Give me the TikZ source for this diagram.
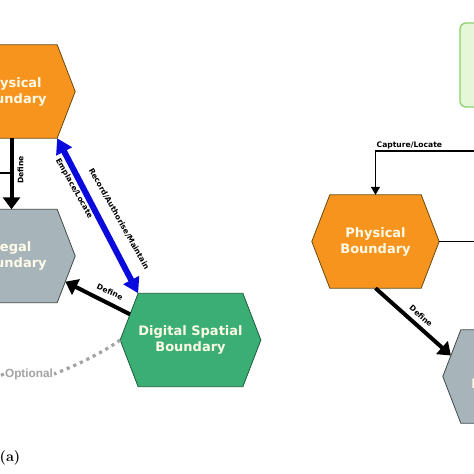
\documentclass[tikz,border=0pt]{standalone}
\usepackage{fontspec}
\newfontfamily\dejavu{DejaVu Sans}
\newfontfamily\libsans{Liberation Sans}
\usetikzlibrary{arrows.meta,calc}
\pgfdeclarelayer{background}
\pgfsetlayers{background,main}
\definecolor{orangeF}{HTML}{F7941E}
\definecolor{orangeD}{HTML}{6B4A10}
\definecolor{grayF}{HTML}{A7B5BA}
\definecolor{grayD}{HTML}{3F4A4D}
\definecolor{greenF}{HTML}{3AAE74}
\definecolor{greenD}{HTML}{1E5E3E}
\definecolor{hextext}{HTML}{FFFBE8}
\definecolor{blueA}{HTML}{0A0ADC}
\definecolor{boxfill}{HTML}{E6F7D9}
\definecolor{boxline}{HTML}{8ED16C}
\definecolor{optgray}{HTML}{A3A3A3}
\newcommand\hexdraw[2]{\filldraw[#2] (#1.north west) -- (#1.north east) -- ([xshift=18pt]#1.east) -- (#1.south east) -- (#1.south west) -- ([xshift=-18pt]#1.west) -- cycle;}
\tikzset{
  hexnode/.style={minimum width=91pt, minimum height=93pt, inner sep=0pt, align=center,
    font=\dejavu\bfseries\fontsize{13}{16}\selectfont, text=hextext},
  orangehex/.style={fill=orangeF, draw=orangeD, line width=0.8pt},
  grayhex/.style={fill=grayF, draw=grayD, line width=0.8pt},
  greenhex/.style={fill=greenF, draw=greenD, line width=0.8pt},
  definearrow/.style={line width=4pt, -{Triangle[width=17pt,length=12pt]}},
  bluearrow/.style={line width=6pt, blueA, {Triangle[width=17pt,length=15pt]}-{Triangle[width=17pt,length=15pt]}},
  thinarrow/.style={line width=1.3pt, -{Triangle[width=9pt,length=8pt]}},
  thinline/.style={line width=1.1pt},
  lbl/.style={font=\dejavu\bfseries\fontsize{7.6}{9}\selectfont, text=black, inner sep=1pt},
  optlbl/.style={font=\libsans\bfseries\fontsize{11.8}{14}\selectfont, text=optgray, inner sep=1pt},
  dotline/.style={optgray, line width=3.2pt, dash pattern=on 3.2pt off 4pt},
  greenbox/.style={draw=boxline, fill=boxfill, line width=1.3pt, rounded corners=6pt,
    minimum width=60pt, minimum height=84pt},
}
\begin{document}
\begin{tikzpicture}[x=1pt,y=-1pt]
\path[use as bounding box] (0,0) rectangle (474,474);
% hexagon nodes
\node[hexnode] (lp) at (11.5,91.5) {Physical\\Boundary};
\node[hexnode] (lg) at (11.5,256) {Legal\\Boundary};
\node[hexnode] (dsb) at (190.5,340) {Digital Spatial\\Boundary};
\node[hexnode] (rp) at (375.5,241.5) {Physical\\Boundary};
\node[hexnode] (rg) at (506.5,376.5) {Legal\\Boundary};
\begin{pgfonlayer}{background}
\fill[white] (0,0) rectangle (474,474);
\hexdraw{lp}{orangehex}
\hexdraw{lg}{grayhex}
\hexdraw{dsb}{greenhex}
\hexdraw{rp}{orangehex}
\hexdraw{rg}{grayhex}
\end{pgfonlayer}
% green box (right, top)
\node[greenbox] (gbox) at (490,65) {};
% left diagram connectors
\coordinate (lin) at (-10,173);
\draw[thinline] (lin) -- (lin -| lp.south);
\draw[definearrow] (lp.south) -- (lg.north);
\node[lbl, rotate=90] (d1) at (20.5,170) {Define};
\draw[bluearrow] (lp.south east) -- (dsb.north west);
\node[lbl, rotate=-60.5] (rec) at (119,219) {Record/Authorise/Maintain};
\node[lbl, rotate=-60.5] (emp) at (74,188.5) {Emplace/Locate};
\draw[definearrow] ($(dsb.north west)!0.45!([xshift=-18pt]dsb.west)$) -- ($([xshift=18pt]lg.east)!0.55!(lg.south east)$);
\node[lbl, rotate=-24.6] (d2) at (110,292) {Define};
\node[optlbl] (opt) at (29,374) {Optional};
\coordinate (optout) at (-25,388);
\draw[dotline] ([xshift=-18pt]dsb.west) .. controls (105,351) and (80,364) .. (opt.east);
\draw[dotline] (opt.west) -- (optout);
\node[font=\bfseries\fontsize{14.5}{17}\selectfont, inner sep=0pt] (lbla) at (10,458) {(a)};
% right diagram connectors
\coordinate (capin) at (490,151);
\draw[thinarrow] (capin) -| (rp.north);
\node[lbl, anchor=south west] (cap) at (375.5,150) {Capture/Locate};
\coordinate (rout) at (490,241.5);
\draw[thinline] ([xshift=18pt]rp.east) -- (rout);
\draw[definearrow] (rp.south) -- ($(rg.north west)!0.55!([xshift=-18pt]rg.west)$);
\node[lbl, rotate=-41.8] (d3) at (421,316) {Define};
\end{tikzpicture}
\end{document}
